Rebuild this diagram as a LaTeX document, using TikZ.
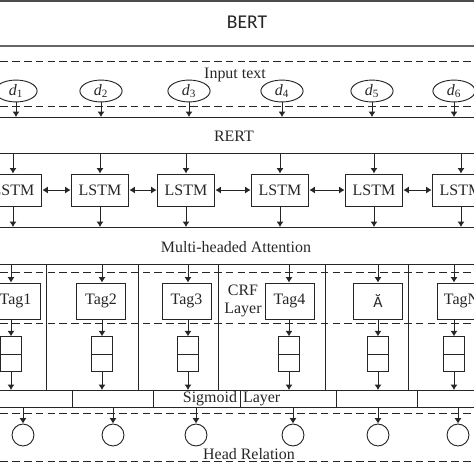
\documentclass[tikz,border=0pt]{standalone}
\usepackage{fontspec}
\setmainfont{Liberation Serif}
\newfontfamily\calibri{Carlito}
\usetikzlibrary{arrows.meta,shapes.geometric,calc,backgrounds}

\begin{document}
\begin{tikzpicture}[x=0.64pt,y=-0.64pt,>={Latex[length=3.5pt,width=4.5pt]},
        line width=0.6pt,color=black!85,
        word/.style={ellipse,draw,minimum width=27pt,minimum height=14pt,inner sep=0pt},
        lstm/.style={rectangle,draw,minimum width=37pt,minimum height=20.5pt,inner sep=0pt},
        tag/.style={rectangle,draw,minimum width=31.4pt,minimum height=23pt,inner sep=0pt},
        cell/.style={rectangle,draw,minimum width=14pt,minimum height=22pt,inner sep=0pt},
        head/.style={circle,draw,minimum size=14pt,inner sep=0pt},
        dash line/.style={dash pattern=on 5pt off 2.6pt},
        every node/.style={font=\fontsize{10.2}{11.5}\selectfont}]
        \clip (0,0) rectangle (474,474);
        % layer borders
        \draw[line width=1.3pt,black!70] (0,1) -- (474,1);
        \draw[line width=1pt,black!60]   (0,46) -- (474,46);
        \draw[dash line] (0,61)  -- (474,61);
        \draw[dash line] (0,106) -- (474,106);
        \draw (0,117) coordinate (in bot)   -- (474,117);
        \draw (0,153) coordinate (rert bot) -- (474,153);
        \draw (0,227) coordinate (lstm bot) -- (474,227);
        \draw (0,264) coordinate (attn bot) -- (474,264);
        \draw[dash line] (0,272) -- (474,272);
        \draw[dash line] (0,323) -- (474,323);
        \draw (0,390) coordinate (sig top)  -- (474,390);
        \draw (0,407) coordinate (sig bot)  -- (474,407);
        \draw[dash line] (0,413) -- (474,413);
        \draw[dash line] (0,461) -- (474,461);
        % labels
        \node (bert)  at (247,22)  {\calibri\fontsize{12.5}{14}\selectfont BERT};
        \node (input) at (235,75)  {Input text};
        \node (rert)  at (234,136) {RERT};
        \node (attn)  at (236,247) {Multi-headed Attention};
        \node (crf)   [align=center] at (243,301) {CRF\\Layer};
        \node (siga)  [anchor=east,inner sep=1pt] at (239,399) {Sigmoid};
        \node (sigb)  [anchor=west,inner sep=1pt] at (241,399) {Layer};
        \node (rel)   at (249,454) {Head Relation};
        % input words
        \node[word] (d1) at (16,91)  {\textit{d}\textsubscript{1}};
        \node[word] (d2) at (101,91) {\textit{d}\textsubscript{2}};
        \node[word] (d3) at (189,91) {\textit{d}\textsubscript{3}};
        \node[word] (d4) at (282,91) {\textit{d}\textsubscript{4}};
        \node[word] (d5) at (372,91) {\textit{d}\textsubscript{5}};
        \node[word] (d6) at (454,91) {\textit{d}\textsubscript{6}};
        % bilstm
        \node[lstm] (l1) at (13,190)  {LSTM};
        \node[lstm] (l2) at (100,190) {LSTM};
        \node[lstm] (l3) at (186,190) {LSTM};
        \node[lstm] (l4) at (280,190) {LSTM};
        \node[lstm] (l5) at (374,190) {LSTM};
        \node[lstm] (l6) at (461,190) {LSTM};
        % crf
        \node[tag] (t1) at (15.5,301)  {Tag1};
        \node[tag] (t2) at (101,301)   {Tag2};
        \node[tag] (t3) at (186.5,301) {Tag3};
        \node[tag] (t4) at (289.5,301) {Tag4};
        \node[tag] (t5) at (378,301)   {\calibri Ă};
        \node[tag] (t6) at (461.5,301) {TagN};
        \node[cell] (c1) at (11,354)  {};
        \node[cell] (c2) at (102,354) {};
        \node[cell] (c3) at (188,354) {};
        \node[cell] (c4) at (289,354) {};
        \node[cell] (c5) at (378,354) {};
        \node[cell] (c6) at (454,354) {};
        % heads
        \node[head] (h1) at (23,435)  {};
        \node[head] (h2) at (113,435) {};
        \node[head] (h3) at (196,435) {};
        \node[head] (h4) at (293,435) {};
        \node[head] (h5) at (378,435) {};
        \node[head] (h6) at (458,435) {};
        % column dividers
        \draw (46,264)  -- (46,390);
        \draw (138,264) -- (138,390);
        \draw (218,264) -- (218,390);
        \draw (325,264) -- (325,390);
        \draw (408,264) -- (408,390);
        \draw (72,390)  -- (72,407);
        \draw (153,390) -- (153,407);
        \draw (240,390) -- (240,407);
        \draw (336,390) -- (336,407);
        \draw (417,390) -- (417,407);
        % cell middles
        \draw (c1.west) -- (c1.east);
        \draw (c2.west) -- (c2.east);
        \draw (c3.west) -- (c3.east);
        \draw (c4.west) -- (c4.east);
        \draw (c5.west) -- (c5.east);
        \draw (c6.west) -- (c6.east);
        % arrows
        \draw[->] (d1) -- (d1 |- in bot);
        \draw[->] (d2) -- (d2 |- in bot);
        \draw[->] (d3) -- (d3 |- in bot);
        \draw[->] (d4) -- (d4 |- in bot);
        \draw[->] (d5) -- (d5 |- in bot);
        \draw[->] (d6) -- (d6 |- in bot);
        \draw[->] (l1 |- rert bot) -- (l1);
        \draw[->] (l2 |- rert bot) -- (l2);
        \draw[->] (l3 |- rert bot) -- (l3);
        \draw[->] (l4 |- rert bot) -- (l4);
        \draw[->] (l5 |- rert bot) -- (l5);
        \draw[->] (l6 |- rert bot) -- (l6);
        \path[<->]
          (l1) edge (l2)
          (l2) edge (l3)
          (l3) edge (l4)
          (l4) edge (l5)
          (l5) edge (l6);
        \draw[->] (l1) -- (l1 |- lstm bot);
        \draw[->] (l2) -- (l2 |- lstm bot);
        \draw[->] (l3) -- (l3 |- lstm bot);
        \draw[->] (l4) -- (l4 |- lstm bot);
        \draw[->] (l5) -- (l5 |- lstm bot);
        \draw[->] (l6) -- (l6 |- lstm bot);
        \draw[->] (c1 |- attn bot) -- (c1 |- t1.north);
        \draw[->] (c2 |- attn bot) -- (c2 |- t2.north);
        \draw[->] (c3 |- attn bot) -- (c3 |- t3.north);
        \draw[->] (c4 |- attn bot) -- (c4 |- t4.north);
        \draw[->] (c5 |- attn bot) -- (c5 |- t5.north);
        \draw[->] (c6 |- attn bot) -- (c6 |- t6.north);
        \draw[->] (c1 |- t1.south) -- (c1);
        \draw[->] (c2 |- t2.south) -- (c2);
        \draw[->] (c3 |- t3.south) -- (c3);
        \draw[->] (c4 |- t4.south) -- (c4);
        \draw[->] (c5 |- t5.south) -- (c5);
        \draw[->] (c6 |- t6.south) -- (c6);
        \draw[->] (c1) -- (c1 |- sig top);
        \draw[->] (c2) -- (c2 |- sig top);
        \draw[->] (c3) -- (c3 |- sig top);
        \draw[->] (c4) -- (c4 |- sig top);
        \draw[->] (c5) -- (c5 |- sig top);
        \draw[->] (c6) -- (c6 |- sig top);
        \draw[->] (h1 |- sig bot) -- (h1);
        \draw[->] (h2 |- sig bot) -- (h2);
        \draw[->] (h3 |- sig bot) -- (h3);
        \draw[->] (h4 |- sig bot) -- (h4);
        \draw[->] (h5 |- sig bot) -- (h5);
        \draw[->] (h6 |- sig bot) -- (h6);
      \end{tikzpicture}
\end{document}
